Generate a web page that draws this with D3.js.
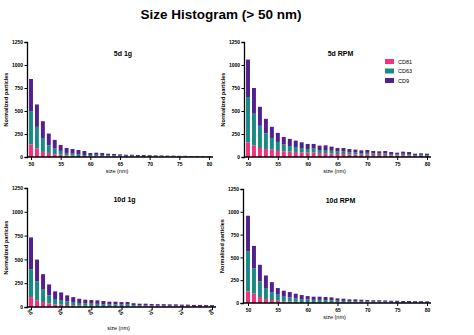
<!DOCTYPE html>
<html>
<head>
<meta charset="utf-8">
<script src="https://cdn.jsdelivr.net/npm/d3@7"></script>
<style>
  body { margin: 0; background: #fff; }
  svg { font-family: "Liberation Sans", Arial, sans-serif; }
  .tick text { font-size: 5px; font-weight: bold; }
</style>
</head>
<body>
<svg id="chart" width="474" height="335"></svg>
<script>
// size bins, 50..80 nm
const sizes = d3.range(50, 81);
const markers = ["CD81", "CD63", "CD9"];
const yTicks = [0, 250, 500, 750, 1000, 1250];
const xTicks = [50, 55, 60, 65, 70, 75, 80];

// 5d 1g
const cd81_5d1g = [135, 91, 55, 44, 29, 25, 18, 15, 11, 11, 8, 9, 8, 7, 6, 6, 5, 5, 4, 4, 4, 4, 3, 3, 3, 3, 3, 2, 2, 2, 2];
const cd63_5d1g = [364, 237, 152, 83, 62, 41, 26, 21, 22, 11, 14, 15, 14, 11, 10, 9, 8, 8, 7, 7, 6, 6, 6, 5, 5, 4, 4, 4, 4, 3, 3];
const cd9_5d1g  = [349, 243, 182, 128, 95, 65, 54, 51, 43, 43, 22, 23, 22, 18, 17, 14, 12, 12, 11, 11, 10, 8, 8, 7, 7, 6, 6, 5, 5, 5, 5];

// 5d RPM
const cd81_5dRPM = [157, 127, 98, 87, 80, 66, 62, 58, 55, 51, 47, 47, 44, 42, 38, 33, 33, 29, 27, 24, 25, 22, 21, 22, 18, 16, 19, 18, 12, 13, 12];
const cd63_5dRPM = [495, 343, 241, 171, 127, 98, 73, 62, 54, 47, 40, 44, 32, 34, 30, 26, 26, 23, 21, 19, 20, 17, 16, 17, 14, 12, 16, 14, 10, 11, 10];
const cd9_5dRPM  = [407, 280, 207, 157, 121, 98, 83, 77, 69, 62, 55, 51, 48, 51, 45, 39, 39, 35, 32, 29, 31, 26, 25, 26, 22, 19, 23, 22, 14, 16, 14];

// 10d 1g
const cd81_10d1g = [104, 70, 52, 38, 28, 24, 21, 18, 15, 13, 12, 11, 10, 9, 9, 8, 8, 6, 5, 5, 5, 4, 4, 4, 4, 4, 4, 3, 3, 3, 3];
const cd63_10d1g = [293, 198, 136, 84, 56, 49, 38, 34, 27, 24, 23, 22, 20, 18, 18, 17, 17, 13, 11, 11, 10, 10, 10, 9, 9, 8, 8, 7, 7, 6, 6];
const cd9_10d1g  = [334, 230, 157, 115, 80, 80, 63, 52, 45, 40, 38, 37, 33, 29, 29, 27, 27, 21, 19, 19, 17, 16, 16, 15, 15, 13, 13, 12, 12, 11, 11];

// 10d RPM
const cd81_10dRPM = [127, 102, 66, 44, 33, 25, 18, 16, 13, 11, 10, 9, 9, 8, 8, 7, 6, 5, 5, 5, 4, 4, 4, 4, 3, 3, 3, 3, 3, 3, 2];
const cd63_10dRPM = [437, 280, 171, 120, 87, 66, 51, 46, 38, 32, 28, 25, 25, 24, 22, 18, 17, 14, 14, 13, 12, 11, 11, 10, 9, 9, 8, 8, 7, 7, 6];
const cd9_10dRPM  = [393, 244, 182, 138, 109, 73, 66, 58, 51, 44, 38, 35, 35, 34, 32, 26, 24, 21, 21, 18, 17, 15, 15, 14, 13, 13, 11, 11, 10, 10, 10];

const colors = { CD81: "#f0337a", CD63: "#1b8a84", CD9: "#52208f" };

const panels = [
  { title: "5d 1g", series: [cd81_5d1g, cd63_5d1g, cd9_5d1g],
    ax: 27, x0: 31, x1: 209, y0: 157, y1: 42, rotate: false, legend: false },
  { title: "5d RPM", series: [cd81_5dRPM, cd63_5dRPM, cd9_5dRPM],
    ax: 244, x0: 248, x1: 427, y0: 157, y1: 42, rotate: false, legend: true },
  { title: "10d 1g", series: [cd81_10d1g, cd63_10d1g, cd9_10d1g],
    ax: 27, x0: 31, x1: 212, y0: 307, y1: 188, rotate: true, legend: false },
  { title: "10d RPM", series: [cd81_10dRPM, cd63_10dRPM, cd9_10dRPM],
    ax: 243, x0: 248, x1: 427, y0: 303, y1: 189, rotate: false, legend: false }
];

const svg = d3.select("#chart");

svg.append("text")
  .attr("x", 221).attr("y", 19)
  .attr("text-anchor", "middle")
  .style("font-size", "13.5px").style("font-weight", "bold")
  .text("Size Histogram (> 50 nm)");

panels.forEach(p => {
  const g = svg.append("g");

  const x = d3.scaleLinear().domain([50, 80]).range([p.x0, p.x1]);
  const y = d3.scaleLinear().domain([0, 1250]).range([p.y0, p.y1]);
  const barW = (x(51) - x(50)) * 0.66;

  const rows = sizes.map((s, i) => {
    const r = { size: s };
    markers.forEach((m, k) => r[m] = p.series[k][i]);
    return r;
  });
  const stacked = d3.stack().keys(markers)(rows);

  g.selectAll(".layer")
    .data(stacked)
    .join("g")
    .attr("fill", d => colors[d.key])
    .selectAll("rect")
    .data(d => d)
    .join("rect")
    .attr("x", d => x(d.data.size) - barW / 2)
    .attr("y", d => y(d[1]))
    .attr("width", barW)
    .attr("height", d => y(d[0]) - y(d[1]));

  // y axis
  const yAxis = g.append("g")
    .attr("transform", `translate(${p.ax},0)`)
    .call(d3.axisLeft(y).tickValues(yTicks).tickFormat(d3.format("d"))
      .tickSize(2.5).tickPadding(1.5));
  yAxis.select(".domain").attr("stroke-width", 1.3);
  yAxis.selectAll(".tick line").attr("stroke-width", 1);

  // x axis
  const xAxis = g.append("g")
    .attr("transform", `translate(0,${p.y0})`)
    .call(d3.axisBottom(x).tickValues(xTicks).tickFormat(d3.format("d"))
      .tickSize(3).tickPadding(2).tickSizeOuter(0));
  xAxis.select(".domain")
    .attr("d", `M${p.ax},0H${x(80) + 4}`)
    .attr("stroke-width", 1.3);
  xAxis.selectAll(".tick line").attr("stroke-width", 1);
  if (p.rotate) {
    xAxis.selectAll(".tick text")
      .attr("transform", "rotate(60)")
      .attr("text-anchor", "start")
      .attr("dy", "0.1em")
      .attr("dx", "0.2em");
  }

  g.append("text")
    .attr("x", (p.x0 + p.x1) / 2 - 3)
    .attr("y", p.y0 + (p.rotate ? 23 : 16))
    .attr("text-anchor", "middle")
    .style("font-size", "5.5px")
    .text("size (nm)");

  g.append("text")
    .attr("transform", `translate(${p.ax - 19},${(p.y0 + p.y1) / 2}) rotate(-90)`)
    .attr("text-anchor", "middle")
    .style("font-size", "5.5px").style("font-weight", "bold")
    .text("Normalized particles");

  g.append("text")
    .attr("x", (p.x0 + p.x1) / 2 + 3)
    .attr("y", p.y1 + 14)
    .attr("text-anchor", "middle")
    .style("font-size", "7px").style("font-weight", "bold")
    .text(p.title);

  if (p.legend) {
    const lg = g.append("g").attr("transform", "translate(385,59)");
    markers.forEach((m, k) => {
      lg.append("rect")
        .attr("x", 0).attr("y", k * 9.5)
        .attr("width", 9).attr("height", 5)
        .attr("fill", colors[m]);
      lg.append("text")
        .attr("x", 13).attr("y", k * 9.5 + 4.5)
        .style("font-size", "5.5px")
        .text(m);
    });
  }
});
</script>
</body>
</html>
